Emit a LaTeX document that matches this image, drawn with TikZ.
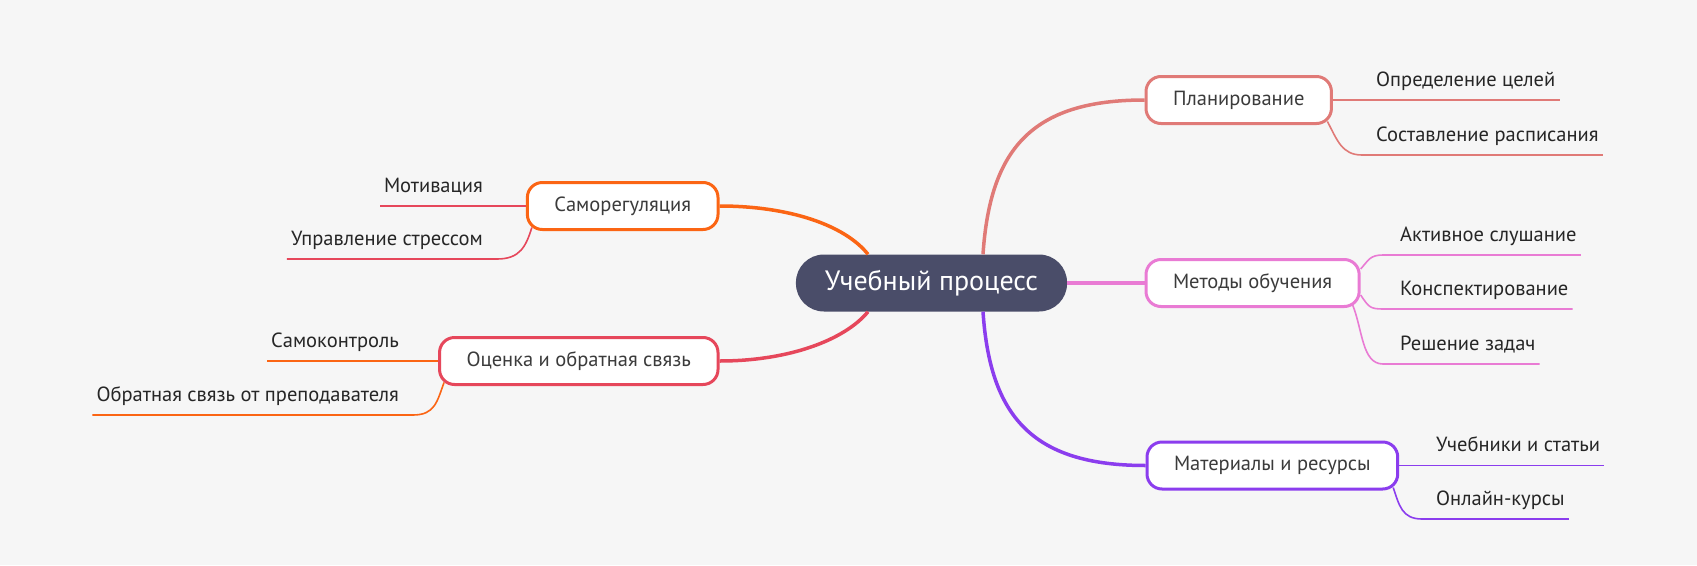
\documentclass[tikz,border=0pt]{standalone}
\usepackage{fontspec}
\setmainfont{PT Sans}
\definecolor{bgcol}{HTML}{F6F6F6}
\definecolor{hubcol}{HTML}{4A4D69}
\definecolor{plancol}{HTML}{E07A77}
\definecolor{methcol}{HTML}{E97BD4}
\definecolor{matcol}{HTML}{8B3DEE}
\definecolor{selfcol}{HTML}{FB6514}
\definecolor{evalcol}{HTML}{E6475B}
\definecolor{topictext}{HTML}{3B3B3B}
\definecolor{leaftext}{HTML}{262626}

\begin{document}
\begin{tikzpicture}[x=1pt,y=-1pt,
    root node/.style={fill=hubcol,text=white,rounded corners=28pt,minimum height=57pt,inner xsep=29pt,font=\fontsize{28}{31}\selectfont},
    topic node/.style={draw=#1,fill=white,line width=3pt,rounded corners=15pt,minimum height=47pt,inner xsep=27pt,text=topictext,font=\fontsize{20.5}{23}\selectfont},
    leaf node/.style={inner xsep=4pt,inner ysep=13.5pt,text depth=0pt,text=leaftext,font=\fontsize{20.5}{23}\selectfont},
    main edge/.style={draw=#1,line width=3.5pt},
    sub edge/.style={draw=#1,line width=1.6pt}]

  \fill[bgcol] (0,0) rectangle (1697,565);
  \useasboundingbox (0,0) rectangle (1697,565);

  \node[root node] (hub) at (931.5,283) {Учебный процесс};

  \node[topic node=plancol,anchor=west] (plan) at (1144.5,100) {Планирование};
  \node[topic node=methcol,anchor=west] (meth) at (1144.5,283) {Методы обучения};
  \node[topic node=matcol,anchor=west] (mat) at (1145.5,465.5) {Материалы и ресурсы};
  \node[topic node=selfcol,anchor=east] (self) at (719.5,206) {Саморегуляция};
  \node[topic node=evalcol,anchor=east] (eval) at (719.5,361) {Оценка и обратная связь};

  \node[leaf node,anchor=south west] (goals) at (1372,100) {Определение целей};
  \node[leaf node,anchor=south west] (sched) at (1372,155) {Составление расписания};
  \node[leaf node,anchor=south west] (listen) at (1396,255) {Активное слушание};
  \node[leaf node,anchor=south west] (notes) at (1396,309) {Конспектирование};
  \node[leaf node,anchor=south west] (tasks) at (1396,364) {Решение задач};
  \node[leaf node,anchor=south west] (books) at (1432,465.5) {Учебники и статьи};
  \node[leaf node,anchor=south west] (online) at (1432,519) {Онлайн-курсы};
  \node[leaf node,anchor=south east] (motiv) at (487,206) {Мотивация};
  \node[leaf node,anchor=south east] (stress) at (487,259) {Управление стрессом};
  \node[leaf node,anchor=south east] (check) at (403,361) {Самоконтроль};
  \node[leaf node,anchor=south east] (tutor) at (403,415) {Обратная связь от преподавателя};

  % branches from the centre
  \path[main edge=plancol] ([xshift=51.5pt]hub.north) .. controls +(7,-104) and +(-114,0) .. (plan.west);
  \path[main edge=methcol] (hub.east) -- (meth.west);
  \path[main edge=matcol] ([xshift=51.5pt]hub.south) .. controls +(7,104) and +(-114,0) .. (mat.west);
  \path[main edge=selfcol] ([xshift=-63.5pt]hub.north) .. controls +(-23,-29) and +(70,0) .. (self.east);
  \path[main edge=evalcol] ([xshift=-63.5pt]hub.south) .. controls +(-23,28) and +(70,0) .. (eval.east);

  % leaves
  \path[sub edge=plancol] (plan.east) -- (goals.south east);
  \path[sub edge=plancol] ([xshift=-5.5pt,yshift=3.5pt]plan.south east) .. controls +(10,19) and +(-20,0) .. ([xshift=-10pt]sched.south west) -- (sched.south east);
  \path[sub edge=methcol] ([yshift=14pt]meth.east) .. controls +(8,-9) and +(-13,0) .. ([xshift=-13pt]listen.south west) -- (listen.south east);
  \path[sub edge=methcol] ([yshift=-12pt]meth.east) .. controls +(8,12) and +(-13,0) .. ([xshift=-13pt]notes.south west) -- (notes.south east);
  \path[sub edge=methcol] ([xshift=-8pt,yshift=3pt]meth.south east) .. controls +(10,25) and +(-21,0) .. ([xshift=-13pt]tasks.south west) -- (tasks.south east);
  \path[sub edge=matcol] (mat.east) -- (books.south east);
  \path[sub edge=matcol] ([xshift=-6pt,yshift=3pt]mat.south east) .. controls +(6,18) and +(-20,0) .. ([xshift=-10pt]online.south west) -- (online.south east);
  \path[sub edge=evalcol] (self.west) -- (motiv.south west);
  \path[sub edge=evalcol] ([xshift=6pt,yshift=3.5pt]self.south west) .. controls +(-6,19) and +(23,0) .. ([xshift=10pt]stress.south east) -- (stress.south west);
  \path[sub edge=selfcol] (eval.west) -- (check.south west);
  \path[sub edge=selfcol] ([xshift=6pt,yshift=3.5pt]eval.south west) .. controls +(-7,19) and +(22,0) .. ([xshift=10pt]tutor.south east) -- (tutor.south west);
\end{tikzpicture}
\end{document}
